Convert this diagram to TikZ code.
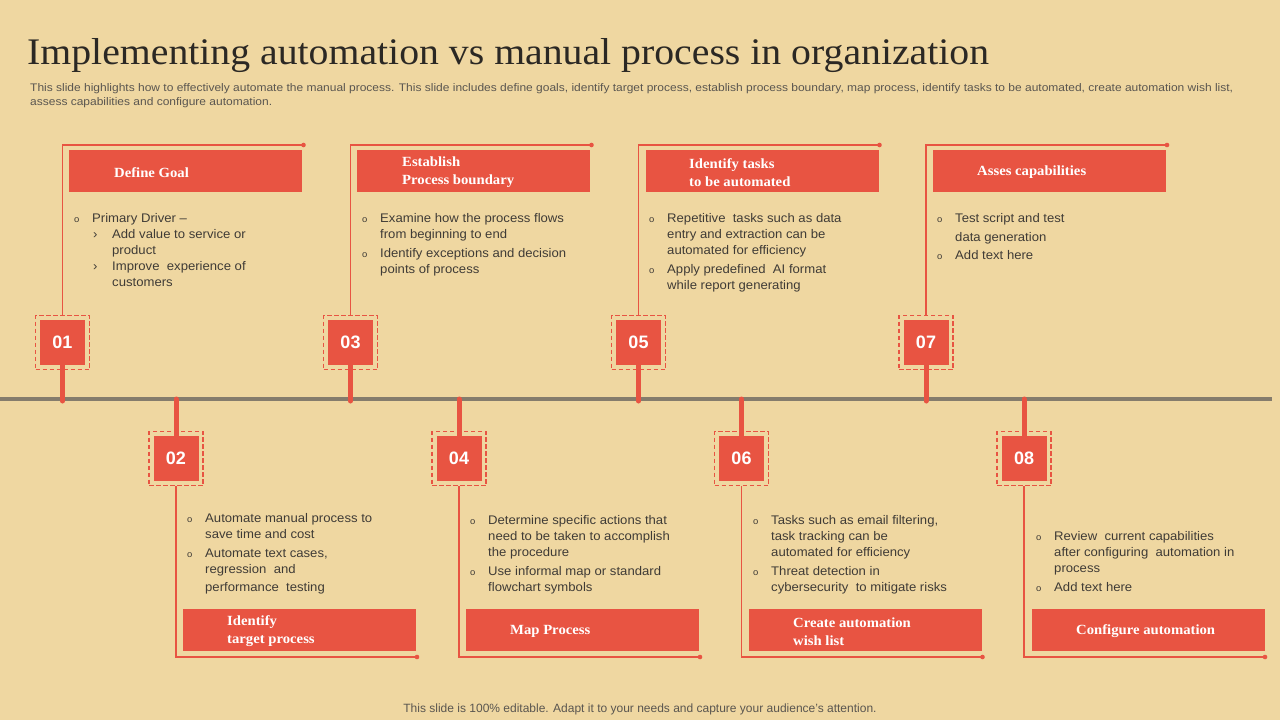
\documentclass[tikz,border=0pt]{standalone}
\usepackage{fontspec}
\setmainfont{Liberation Sans}
\newfontfamily\hdfont[FakeStretch=1.05]{Liberation Serif}
\newfontfamily\ttlfont[FakeStretch=1.06]{Liberation Serif}
\newfontfamily\subfont[FakeStretch=1.09]{Liberation Sans}
\newfontfamily\bodyfont[FakeStretch=1.05]{Liberation Sans}
\usepackage{array}
\definecolor{bgc}{HTML}{EFD7A1}
\definecolor{redc}{HTML}{E85442}
\definecolor{linec}{HTML}{857C6C}
\definecolor{txtc}{HTML}{3F3B36}
\definecolor{subc}{HTML}{5A5650}
\definecolor{ttlc}{HTML}{2B2824}
\newcommand{\bo}{{\fontsize{9}{9}\selectfont o}}
\newcommand{\subbul}{\hspace{1pt}\makebox[19pt][l]{›}}
\tikzset{
  numbox/.style={fill=redc, minimum size=45pt, inner sep=0pt, text=white, font=\bfseries\fontsize{18}{18}\selectfont},
  dashbox/.style={draw=redc, dashed, dash pattern=on 4.5pt off 2.5pt, line width=1.1pt, minimum size=54pt, inner sep=0pt},
  hbox/.style={fill=redc, minimum width=233pt, minimum height=42pt, inner sep=0pt},
  htext/.style={text=white, align=left, inner sep=0pt, font=\hdfont\bfseries\fontsize{14}{18}\selectfont},
  thinline/.style={draw=redc, line width=1.1pt},
  stemline/.style={draw=redc, line width=5pt, line cap=round},
  body/.style={anchor=base west, inner sep=0pt, text=txtc, font=\bodyfont\fontsize{12.5}{16}\selectfont},
}
\newcommand{\topitem}[3]{%
  \node[dashbox] (d#1) at (#2,342.5) {};
  \node[numbox] (n#1) at (#2,342.5) {#3};
  \coordinate (c#1) at (#2,145);
  \coordinate (e#1) at ({#2+241},145);
  \coordinate (t#1) at (#2,401);
  \draw[thinline] (d#1.north) -- (c#1) -- (e#1);
  \fill[redc] (e#1) circle (2.3pt);
  \draw[stemline] (n#1.south) -- (t#1);
}
\newcommand{\botitem}[3]{%
  \node[dashbox] (d#1) at (#2,458.5) {};
  \node[numbox] (n#1) at (#2,458.5) {#3};
  \coordinate (c#1) at (#2,657);
  \coordinate (e#1) at ({#2+241},657);
  \coordinate (t#1) at (#2,399);
  \draw[thinline] (d#1.south) -- (c#1) -- (e#1);
  \fill[redc] (e#1) circle (2.3pt);
  \draw[stemline] (t#1) -- (n#1.north);
}
\begin{document}
\begin{tikzpicture}[x=1pt,y=-1pt]
\fill[bgc] (0,0) rectangle (1280,720);
\useasboundingbox (0,0) rectangle (1280,720);
% title
\node[anchor=base west, inner sep=0pt, text=ttlc, font=\ttlfont\fontsize{37.5}{40}\selectfont] (title) at (27,64) {Implementing automation vs manual process in organization};
\node[anchor=base west, inner sep=0pt, text=subc, align=left, font=\subfont\fontsize{11}{14}\selectfont] (sub) at (30,105) {This slide highlights how to effectively automate the manual process. This slide includes define goals, identify target process, establish process boundary, map process, identify tasks to be automated, create automation wish list,\\assess capabilities and configure automation.};
% timeline
\coordinate (tl0) at (0,399);
\coordinate (tl1) at (1272,399);
\draw[linec, line width=4pt] (tl0) -- (tl1);
% items
\topitem{1}{62.5}{01}
\topitem{3}{350.5}{03}
\topitem{5}{638.5}{05}
\topitem{7}{926}{07}
\botitem{2}{176}{02}
\botitem{4}{459}{04}
\botitem{6}{741.5}{06}
\botitem{8}{1024}{08}
% header boxes
\node[hbox, anchor=north west] (h1) at (69,150) {};
\node[hbox, anchor=north west] (h3) at (357,150) {};
\node[hbox, anchor=north west] (h5) at (646,150) {};
\node[hbox, anchor=north west] (h7) at (933,150) {};
\node[hbox, anchor=north west] (h2) at (183,609) {};
\node[hbox, anchor=north west] (h4) at (466,609) {};
\node[hbox, anchor=north west] (h6) at (749,609) {};
\node[hbox, anchor=north west] (h8) at (1032,609) {};
\node[htext, anchor=west] (ht1) at (114,172.5) {Define Goal};
\node[htext, anchor=west] (ht3) at (402,172.5) {Establish\\Process boundary};
\node[htext, anchor=west] (ht5) at (689,172.5) {Identify tasks\\to be automated};
\node[htext, anchor=west] (ht7) at (977,172.5) {Asses capabilities};
\node[htext, anchor=west] (ht2) at (227,631.5) {Identify\\target process};
\node[htext, anchor=west] (ht4) at (510,631.5) {Map Process};
\node[htext, anchor=west] (ht6) at (793,631.5) {Create automation\\wish list};
\node[htext, anchor=west] (ht8) at (1076,631.5) {Configure automation};
% body texts
\node[body] (b1) at (74,222) {\begin{tabular}[t]{@{}p{18pt}@{}l@{}}
\bo & Primary Driver –\\
 & \subbul Add value to service or\\
 & \hspace{20pt}product\\
 & \subbul Improve \ experience of\\
 & \hspace{20pt}customers
\end{tabular}};
\node[body] (b3) at (362,222) {\begin{tabular}[t]{@{}p{18pt}@{}l@{}}
\bo & Examine how the process flows\\
 & from beginning to end\\[3pt]
\bo & Identify exceptions and decision\\
 & points of process
\end{tabular}};
\node[body] (b5) at (649,222) {\begin{tabular}[t]{@{}p{18pt}@{}l@{}}
\bo & Repetitive \ tasks such as data\\
 & entry and extraction can be\\
 & automated for efficiency\\[3pt]
\bo & Apply predefined \ AI format\\
 & while report generating
\end{tabular}};
\node[body] (b7) at (937,222) {\begin{tabular}[t]{@{}p{18pt}@{}l@{}}
\bo & Test script and test\\[3pt]
 & data generation\\[2pt]
\bo & Add text here
\end{tabular}};
\node[body] (b2) at (187,522) {\begin{tabular}[t]{@{}p{18pt}@{}l@{}}
\bo & Automate manual process to\\
 & save time and cost\\[3pt]
\bo & Automate text cases,\\
 & regression \ and\\[2pt]
 & performance \ testing
\end{tabular}};
\node[body] (b4) at (470,524) {\begin{tabular}[t]{@{}p{18pt}@{}l@{}}
\bo & Determine specific actions that\\
 & need to be taken to accomplish\\
 & the procedure\\[3pt]
\bo & Use informal map or standard\\
 & flowchart symbols
\end{tabular}};
\node[body] (b6) at (753,524) {\begin{tabular}[t]{@{}p{18pt}@{}l@{}}
\bo & Tasks such as email filtering,\\
 & task tracking can be\\
 & automated for efficiency\\[3pt]
\bo & Threat detection in\\
 & cybersecurity \ to mitigate risks
\end{tabular}};
\node[body] (b8) at (1036,540) {\begin{tabular}[t]{@{}p{18pt}@{}l@{}}
\bo & Review \ current capabilities\\
 & after configuring \ automation in\\
 & process\\[3pt]
\bo & Add text here
\end{tabular}};
% footer
\node[anchor=base, inner sep=0pt, text=subc, font=\fontsize{12}{14}\selectfont] (foot) at (640,712) {This slide is 100\% editable. Adapt it to your needs and capture your audience's attention.};
\end{tikzpicture}
\end{document}
